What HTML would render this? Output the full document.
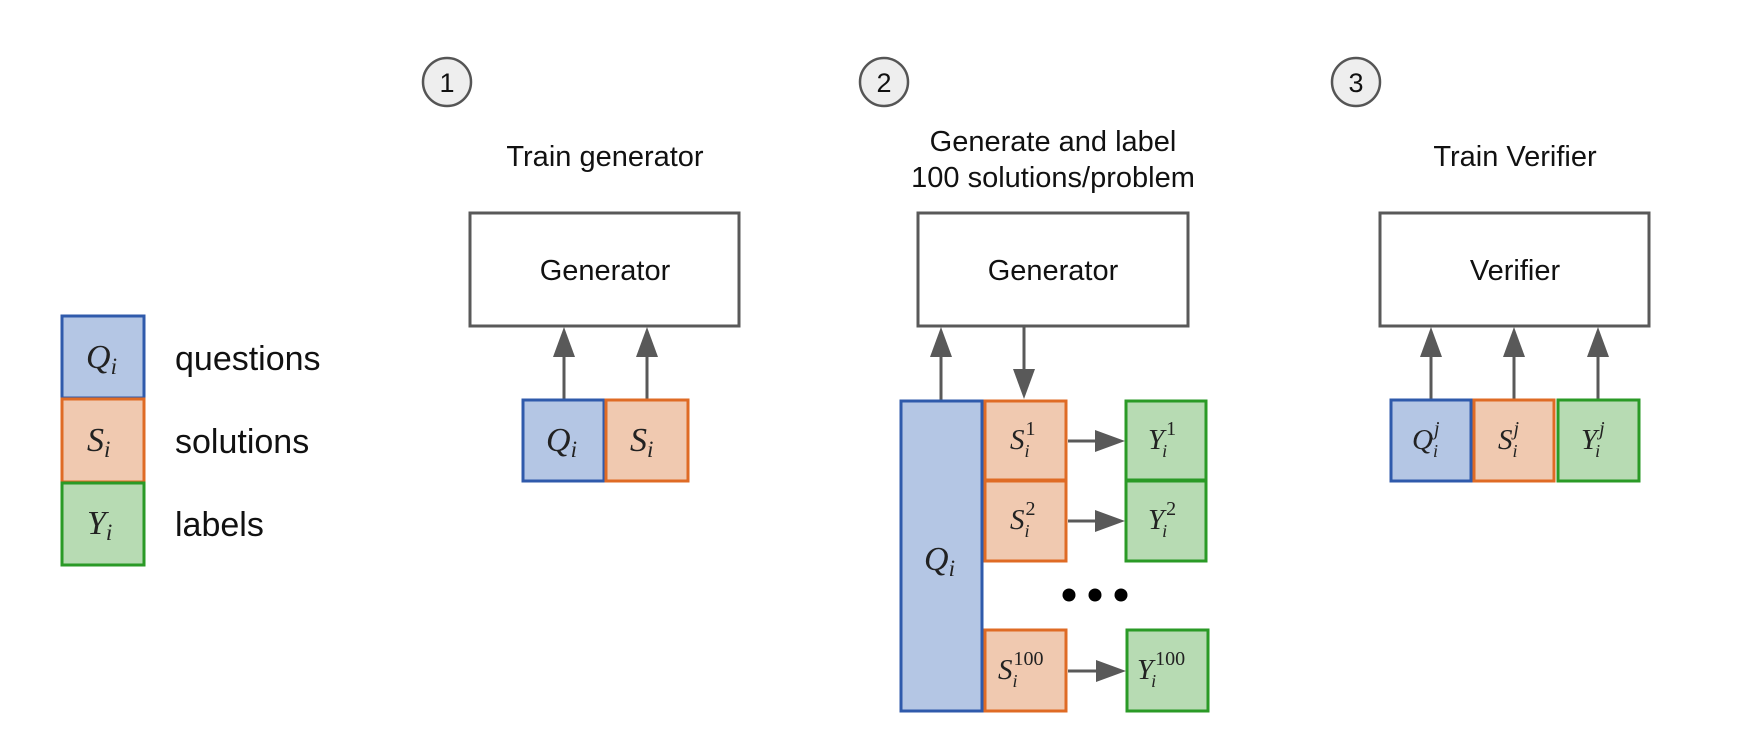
<!DOCTYPE html>
<html><head><meta charset="utf-8"><style>
html,body{margin:0;padding:0;background:#fff;width:1744px;height:744px;overflow:hidden}
svg text{font-family:"Liberation Sans",Arial,sans-serif;fill:#111}
.m{font-family:"Liberation Serif",serif;font-style:italic;fill:#222}
.b{fill:#b4c6e4;stroke:#2f5aab;stroke-width:3}
.o{fill:#f0c9b0;stroke:#df6b25;stroke-width:3}
.g{fill:#b7dbb3;stroke:#2a9a26;stroke-width:3}
.k{fill:#fff;stroke:#595959;stroke-width:3}
.l{stroke:#595959;stroke-width:3;fill:none}
.h{fill:#595959}
.c{fill:#eeeeee;stroke:#555;stroke-width:2.5}
</style></head><body>
<svg width="1744" height="744" viewBox="0 0 1744 744" xmlns="http://www.w3.org/2000/svg">
<rect class="b" x="62" y="316" width="82" height="82"/>
<rect class="o" x="62" y="399" width="82" height="83"/>
<rect class="g" x="62" y="483" width="82" height="82"/>
<text class="m" x="86" y="368" font-size="34">Q<tspan font-size="23" dy="6">i</tspan></text>
<text class="m" x="87" y="451" font-size="34">S<tspan font-size="23" dy="6">i</tspan></text>
<text class="m" x="87" y="534" font-size="34">Y<tspan font-size="23" dy="6">i</tspan></text>
<text x="175" y="370" font-size="34">questions</text>
<text x="175" y="453" font-size="34">solutions</text>
<text x="175" y="536" font-size="34">labels</text>

<circle class="c" cx="447" cy="82" r="24"/><text x="447" y="92" font-size="27" text-anchor="middle">1</text>
<circle class="c" cx="884" cy="82" r="24"/><text x="884" y="92" font-size="27" text-anchor="middle">2</text>
<circle class="c" cx="1356" cy="82" r="24"/><text x="1356" y="92" font-size="27" text-anchor="middle">3</text>

<text x="605" y="166" font-size="29" text-anchor="middle">Train generator</text>
<rect class="k" x="470" y="213" width="269" height="113"/>
<text x="605" y="280" font-size="29" text-anchor="middle">Generator</text>
<line class="l" x1="564" y1="399" x2="564" y2="350"/><polygon class="h" points="564,327 553,357 575,357"/>
<line class="l" x1="647" y1="399" x2="647" y2="350"/><polygon class="h" points="647,327 636,357 658,357"/>
<rect class="b" x="523" y="400" width="81" height="81"/>
<rect class="o" x="606" y="400" width="82" height="81"/>
<text class="m" x="546" y="451" font-size="34">Q<tspan font-size="23" dy="6">i</tspan></text>
<text class="m" x="630" y="451" font-size="34">S<tspan font-size="23" dy="6">i</tspan></text>

<text x="1053" y="151" font-size="29" text-anchor="middle">Generate and label</text>
<text x="1053" y="187" font-size="29" text-anchor="middle">100 solutions/problem</text>
<rect class="k" x="918" y="213" width="270" height="113"/>
<text x="1053" y="280" font-size="29" text-anchor="middle">Generator</text>
<line class="l" x1="941" y1="400" x2="941" y2="350"/><polygon class="h" points="941,327 930,357 952,357"/>
<line class="l" x1="1024" y1="326" x2="1024" y2="375"/><polygon class="h" points="1024,399 1013,369 1035,369"/>
<rect class="b" x="901" y="401" width="81" height="310"/>
<text class="m" x="924" y="570" font-size="34">Q<tspan font-size="23" dy="6">i</tspan></text>
<rect class="o" x="985" y="401" width="81" height="79"/>
<rect class="o" x="985" y="481" width="81" height="80"/>
<rect class="o" x="985" y="630" width="81" height="81"/>
<rect class="g" x="1126" y="401" width="80" height="79"/>
<rect class="g" x="1126" y="481" width="80" height="80"/>
<rect class="g" x="1127" y="630" width="81" height="81"/>
<text class="m" x="1010" y="449" font-size="29">S<tspan font-size="18" dy="8">i</tspan><tspan font-style="normal" font-size="20" dx="-4" dy="-22">1</tspan></text>
<text class="m" x="1010" y="529" font-size="29">S<tspan font-size="18" dy="8">i</tspan><tspan font-style="normal" font-size="20" dx="-4" dy="-22">2</tspan></text>
<text class="m" x="998" y="679" font-size="29">S<tspan font-size="18" dy="8">i</tspan><tspan font-style="normal" font-size="20" dx="-4" dy="-22">100</tspan></text>
<text class="m" x="1148" y="449" font-size="29">Y<tspan font-size="18" dy="8" dx="-2">i</tspan><tspan font-style="normal" font-size="20" dx="-1" dy="-22">1</tspan></text>
<text class="m" x="1148" y="529" font-size="29">Y<tspan font-size="18" dy="8" dx="-2">i</tspan><tspan font-style="normal" font-size="20" dx="-1" dy="-22">2</tspan></text>
<text class="m" x="1137" y="679" font-size="29">Y<tspan font-size="18" dy="8" dx="-2">i</tspan><tspan font-style="normal" font-size="20" dx="-1" dy="-22">100</tspan></text>
<line class="l" x1="1068" y1="441" x2="1100" y2="441"/><polygon class="h" points="1125,441 1095,430 1095,452"/>
<line class="l" x1="1068" y1="521" x2="1100" y2="521"/><polygon class="h" points="1125,521 1095,510 1095,532"/>
<line class="l" x1="1068" y1="671" x2="1100" y2="671"/><polygon class="h" points="1126,671 1096,660 1096,682"/>
<circle cx="1069" cy="595" r="6.5" fill="#000"/><circle cx="1095" cy="595" r="6.5" fill="#000"/><circle cx="1121" cy="595" r="6.5" fill="#000"/>

<text x="1515" y="166" font-size="29" text-anchor="middle">Train Verifier</text>
<rect class="k" x="1380" y="213" width="269" height="113"/>
<text x="1515" y="280" font-size="29" text-anchor="middle">Verifier</text>
<line class="l" x1="1431" y1="400" x2="1431" y2="350"/><polygon class="h" points="1431,327 1420,357 1442,357"/>
<line class="l" x1="1514" y1="400" x2="1514" y2="350"/><polygon class="h" points="1514,327 1503,357 1525,357"/>
<line class="l" x1="1598" y1="400" x2="1598" y2="350"/><polygon class="h" points="1598,327 1587,357 1609,357"/>
<rect class="b" x="1391" y="400" width="80" height="81"/>
<rect class="o" x="1474" y="400" width="80" height="81"/>
<rect class="g" x="1558" y="400" width="81" height="81"/>
<text class="m" x="1412" y="449" font-size="29">Q<tspan font-size="18" dy="8">i</tspan><tspan font-size="20" dx="-4" dy="-22">j</tspan></text>
<text class="m" x="1498" y="449" font-size="29">S<tspan font-size="18" dy="8">i</tspan><tspan font-size="20" dx="-4" dy="-22">j</tspan></text>
<text class="m" x="1581" y="449" font-size="29">Y<tspan font-size="18" dy="8" dx="-2">i</tspan><tspan font-size="20" dx="-1" dy="-22">j</tspan></text>
</svg>
</body></html>
